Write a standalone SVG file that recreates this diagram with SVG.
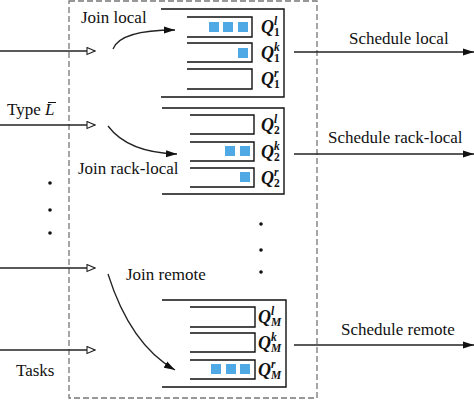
<svg xmlns="http://www.w3.org/2000/svg" width="474" height="400" viewBox="0 0 474 400">
<style>
.t{font-family:"Liberation Serif","Times New Roman",serif;font-size:17px;fill:#111}
.q{font-family:"Liberation Serif","Times New Roman",serif;font-weight:bold;font-style:italic;font-size:18px;fill:#111}
.s{font-family:"Liberation Serif","Times New Roman",serif;font-weight:bold;font-style:italic;font-size:11.5px;fill:#111}
.n{font-family:"Liberation Serif","Times New Roman",serif;font-weight:bold;font-size:11.5px;fill:#111}
.box{fill:none;stroke:#111;stroke-width:1.4}
.ln{fill:none;stroke:#222;stroke-width:1.3}
.b{fill:#4fa9e4}
.dot{fill:#111}
</style>
<defs>
<marker id="fa" markerUnits="userSpaceOnUse" markerWidth="11" markerHeight="8" refX="11" refY="4" orient="auto">
<path d="M0,0.5 L11,4 L0,7.5 z" fill="#111"/>
</marker>
<marker id="oa" markerUnits="userSpaceOnUse" markerWidth="10" markerHeight="9" refX="9" refY="4.5" orient="auto">
<path d="M1,1 L9,4.5 L1,8 z" fill="#fff" stroke="#222" stroke-width="1.1"/>
</marker>
</defs>
<rect id="boundary" x="69" y="1" width="248" height="397" fill="none" stroke="#777" stroke-width="1.3" stroke-dasharray="6 3"/>
<g id="connectors">
<line class="ln" x1="0" y1="51" x2="95" y2="51" marker-end="url(#oa)"/>
<line class="ln" x1="0" y1="125" x2="95" y2="125" marker-end="url(#oa)"/>
<line class="ln" x1="0" y1="268" x2="95" y2="268" marker-end="url(#oa)"/>
<line class="ln" x1="0" y1="350" x2="95" y2="350" marker-end="url(#oa)"/>
<path class="ln" d="M113,49 C118,36 138,30 175,30" marker-end="url(#fa)"/>
<path class="ln" d="M108,126 C120,142 140,153 177,154" marker-end="url(#fa)"/>
<path class="ln" d="M108,274 C120,312 140,350 175,370" marker-end="url(#fa)"/>
<line class="ln" x1="294" y1="52" x2="474" y2="52" marker-end="url(#fa)"/>
<line class="ln" x1="294" y1="154" x2="474" y2="154" marker-end="url(#fa)"/>
<line class="ln" x1="294" y1="345" x2="474" y2="345" marker-end="url(#fa)"/>
</g>
<g id="group1">
<path class="box" d="M161,9 H284 V97 H161"/>
<path class="box" d="M187,17 H252 V37 H187"/>
<path class="box" d="M187,43 H252 V62 H187"/>
<path class="box" d="M187,69 H252 V89 H187"/>
<rect class="b" x="209" y="22" width="10" height="10"/>
<rect class="b" x="223" y="22" width="10" height="10"/>
<rect class="b" x="238" y="22" width="10" height="10"/>
<rect class="b" x="238" y="48" width="10" height="10"/>
<text class="q" x="261" y="33">Q</text><text class="s" x="274" y="25">l</text><text class="n" x="274" y="36">1</text>
<text class="q" x="261" y="59">Q</text><text class="s" x="274" y="51">k</text><text class="n" x="274" y="62">1</text>
<text class="q" x="261" y="85">Q</text><text class="s" x="274" y="77">r</text><text class="n" x="274" y="88">1</text>
</g>
<g id="group2">
<path class="box" d="M162,108 H284 V194 H162"/>
<path class="box" d="M190,115 H254 V134 H190"/>
<path class="box" d="M190,142 H254 V161 H190"/>
<path class="box" d="M190,168 H254 V187 H190"/>
<rect class="b" x="225" y="146" width="10" height="10"/>
<rect class="b" x="240" y="146" width="10" height="10"/>
<rect class="b" x="240" y="172" width="10" height="10"/>
<text class="q" x="261" y="131">Q</text><text class="s" x="274" y="123">l</text><text class="n" x="274" y="134">2</text>
<text class="q" x="261" y="158">Q</text><text class="s" x="274" y="150">k</text><text class="n" x="274" y="161">2</text>
<text class="q" x="261" y="184">Q</text><text class="s" x="274" y="176">r</text><text class="n" x="274" y="187">2</text>
</g>
<g id="groupM">
<path class="box" d="M162,300 H286 V387 H162"/>
<path class="box" d="M190,307 H255 V327 H190"/>
<path class="box" d="M190,333 H255 V352 H190"/>
<path class="box" d="M190,360 H255 V379 H190"/>
<rect class="b" x="211" y="364" width="10" height="10"/>
<rect class="b" x="226" y="364" width="10" height="10"/>
<rect class="b" x="240" y="364" width="10" height="10"/>
<text class="q" x="258" y="323">Q</text><text class="s" x="271" y="315">l</text><text class="s" x="271" y="326">M</text>
<text class="q" x="258" y="349">Q</text><text class="s" x="271" y="341">k</text><text class="s" x="271" y="352">M</text>
<text class="q" x="258" y="376">Q</text><text class="s" x="271" y="368">r</text><text class="s" x="271" y="379">M</text>
</g>
<g id="dots">
<circle class="dot" cx="50" cy="183" r="1.8"/>
<circle class="dot" cx="50" cy="210" r="1.8"/>
<circle class="dot" cx="50" cy="233" r="1.8"/>
<circle class="dot" cx="261" cy="224" r="1.8"/>
<circle class="dot" cx="261" cy="250" r="1.8"/>
<circle class="dot" cx="261" cy="272" r="1.8"/>
</g>
<g id="labels">
<text class="t" x="81" y="23">Join local</text>
<text class="t" x="7" y="115">Type <tspan font-style="italic">L</tspan></text>
<line x1="48" y1="102.5" x2="56" y2="102.5" stroke="#111" stroke-width="1"/>
<text class="t" x="78" y="174">Join rack-local</text>
<text class="t" x="126" y="280">Join remote</text>
<text class="t" x="16" y="376">Tasks</text>
<text class="t" x="349" y="44">Schedule local</text>
<text class="t" x="328" y="143">Schedule rack-local</text>
<text class="t" x="341" y="335">Schedule remote</text>
</g>
</svg>
